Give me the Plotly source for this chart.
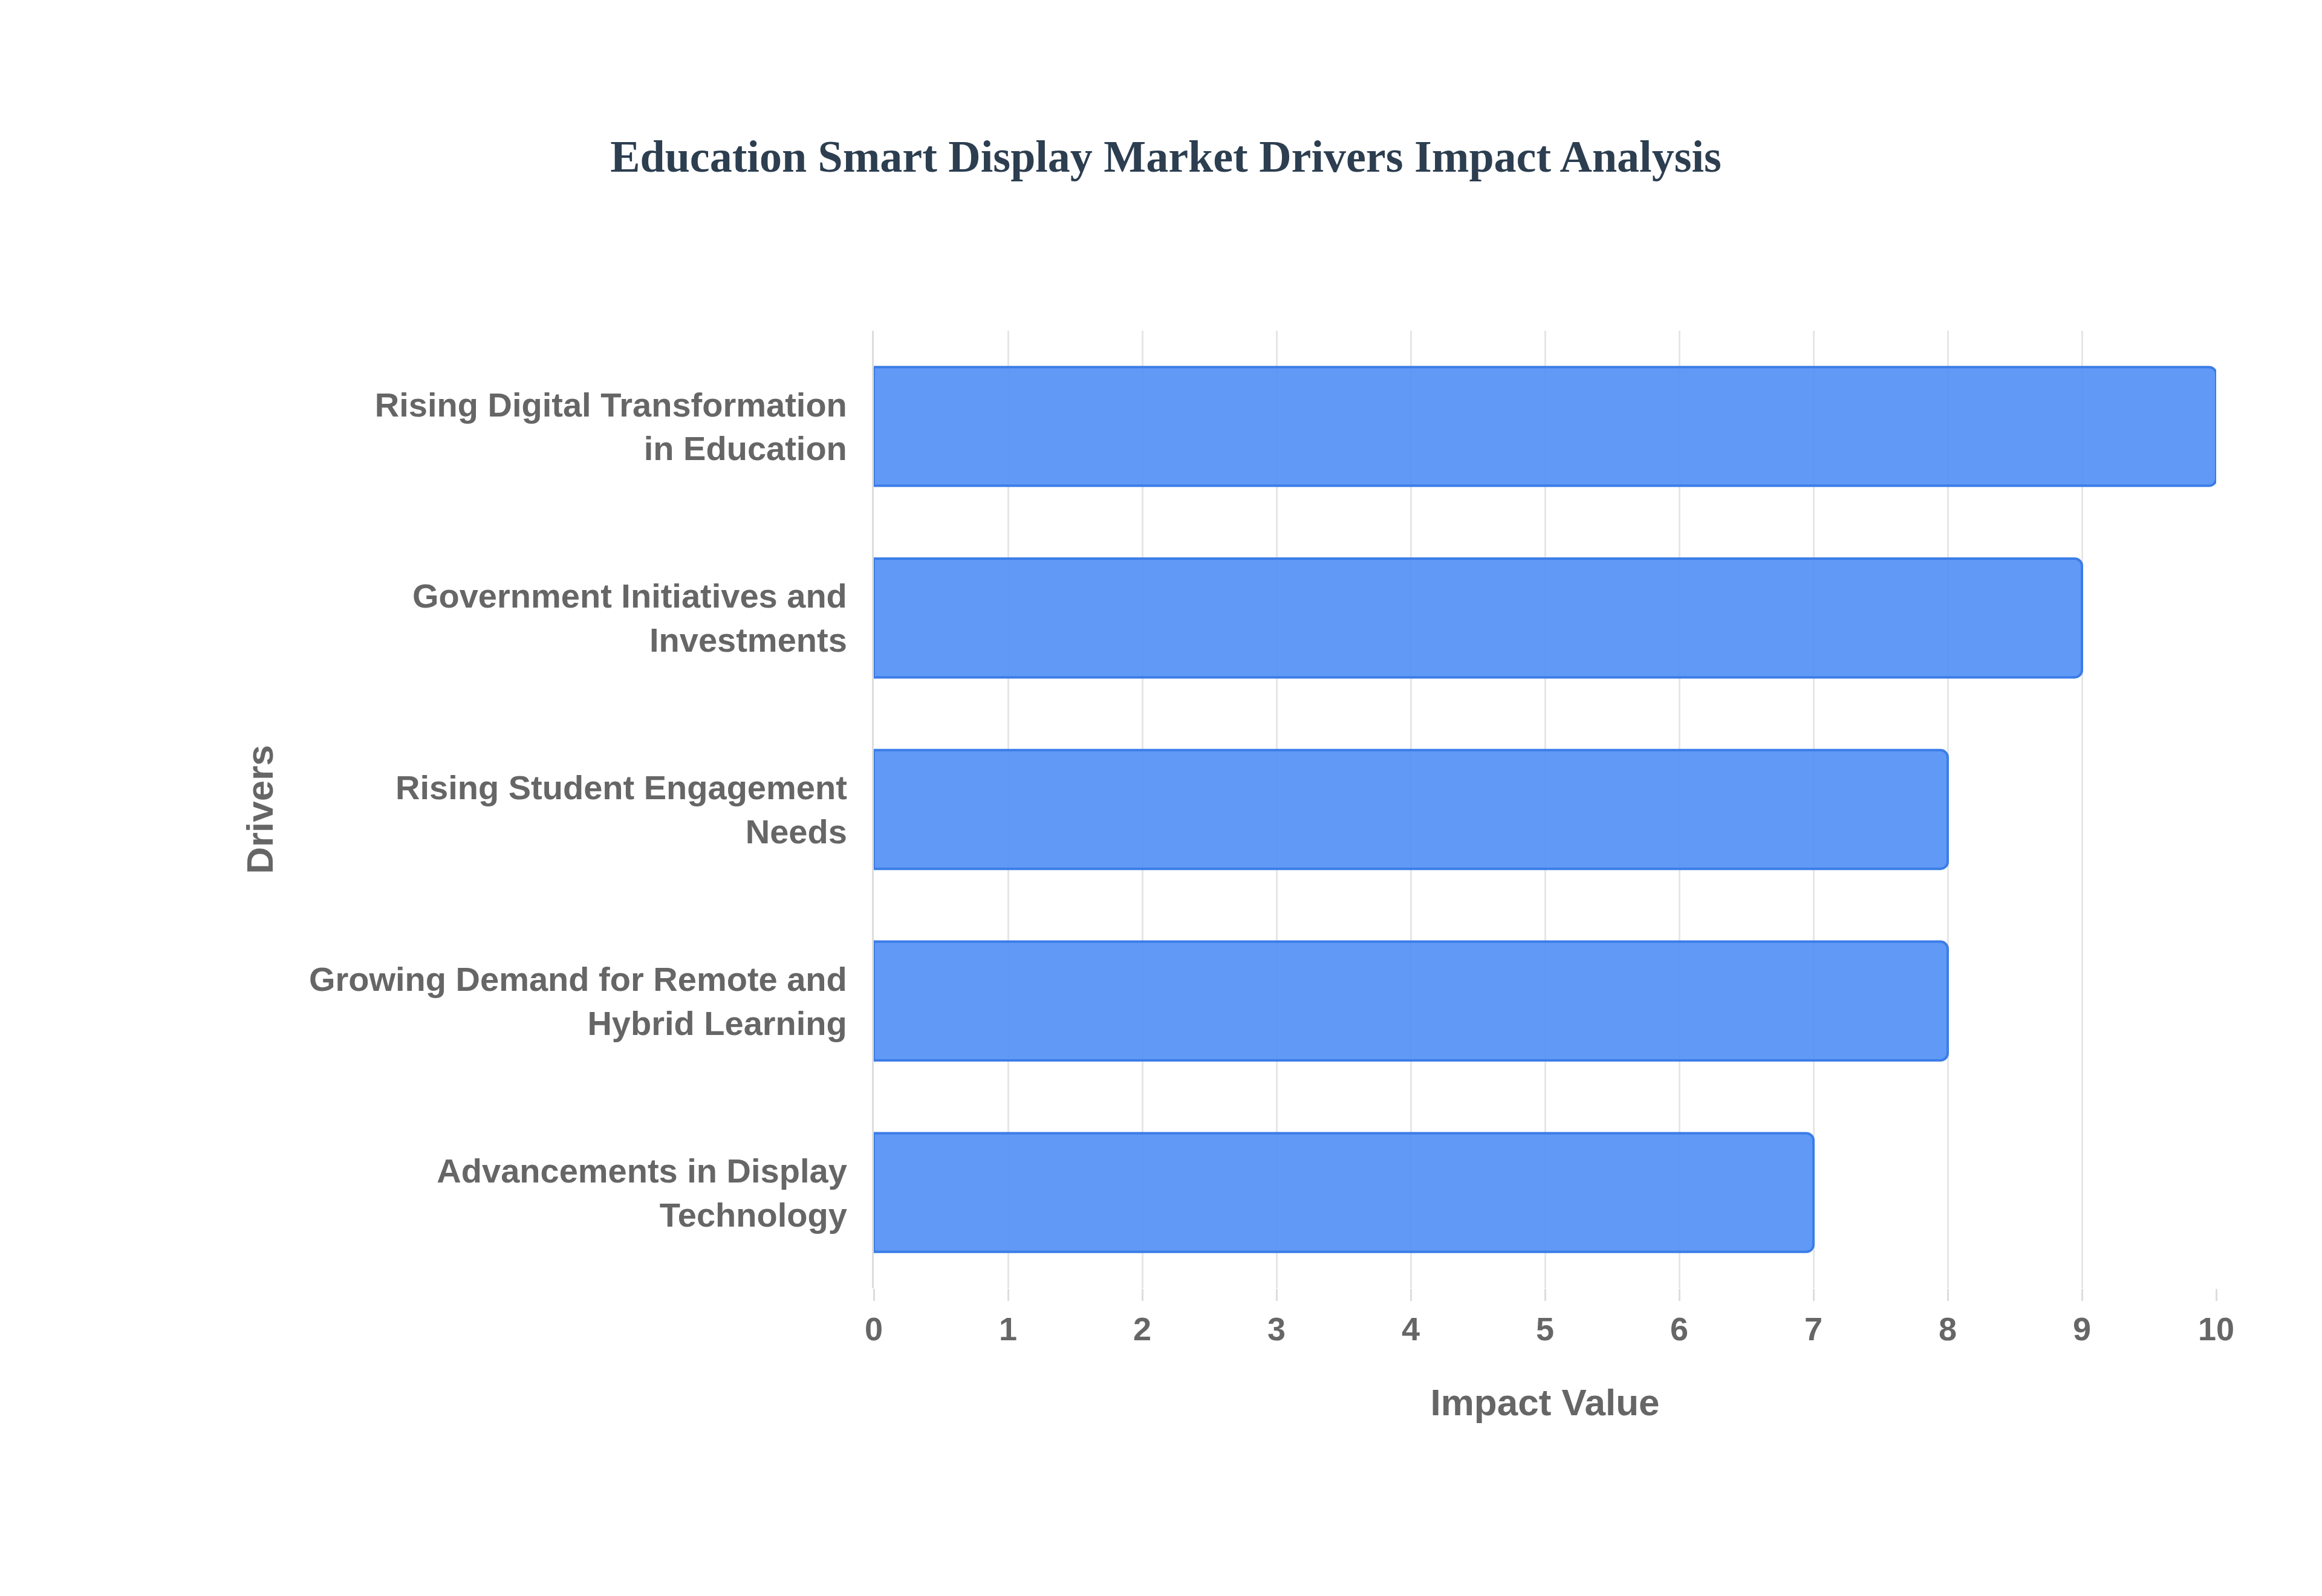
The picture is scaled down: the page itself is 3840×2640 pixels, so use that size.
import plotly.graph_objects as go

drivers = [
    "Advancements in Display<br>Technology",
    "Growing Demand for Remote and<br>Hybrid Learning",
    "Rising Student Engagement<br>Needs",
    "Government Initiatives and<br>Investments",
    "Rising Digital Transformation<br>in Education",
]
impact = [7, 8, 8, 9, 10]

fig = go.Figure(go.Bar(
    x=impact, y=drivers, orientation="h",
    marker=dict(color="rgba(80,142,245,0.9)", line=dict(color="#3b7de8", width=4), cornerradius=12),
))

fig.update_layout(
    width=3840, height=2640,
    paper_bgcolor="white", plot_bgcolor="white",
    margin=dict(l=1437, r=183, t=539, b=517),
    title=dict(text="<b>Education Smart Display Market Drivers Impact Analysis</b>",
               x=0.5, xanchor="center", y=0.915,
               font=dict(family="Liberation Serif", size=74, color="#2c3e50")),
    bargap=0.38,
    showlegend=False,
    font=dict(family="Liberation Sans", color="#666666"),
)
fig.update_xaxes(
    range=[0, 10], dtick=1, showgrid=True, gridcolor="#e6e6e6", gridwidth=3,
    ticks="outside", ticklen=20, tickcolor="#dddddd", tickwidth=3, zeroline=False,
    tickfont=dict(size=54, family="Liberation Sans", color="#666666"),
    title=dict(text="<b>Impact Value</b>", font=dict(size=62, color="#666666"), standoff=70),
    tickprefix="<b>", ticksuffix="</b>",
)
fig.update_yaxes(
    showline=True, linecolor="#dddddd", linewidth=3, ticks="outside", ticklen=30, tickcolor="white",
    tickfont=dict(size=56, family="Liberation Sans", color="#666666"),
    title=dict(text="<b>Drivers</b>", font=dict(size=62, color="#666666"), standoff=40),
    tickprefix="<b>", ticksuffix="</b>",
)

fig.write_html("out.html")
